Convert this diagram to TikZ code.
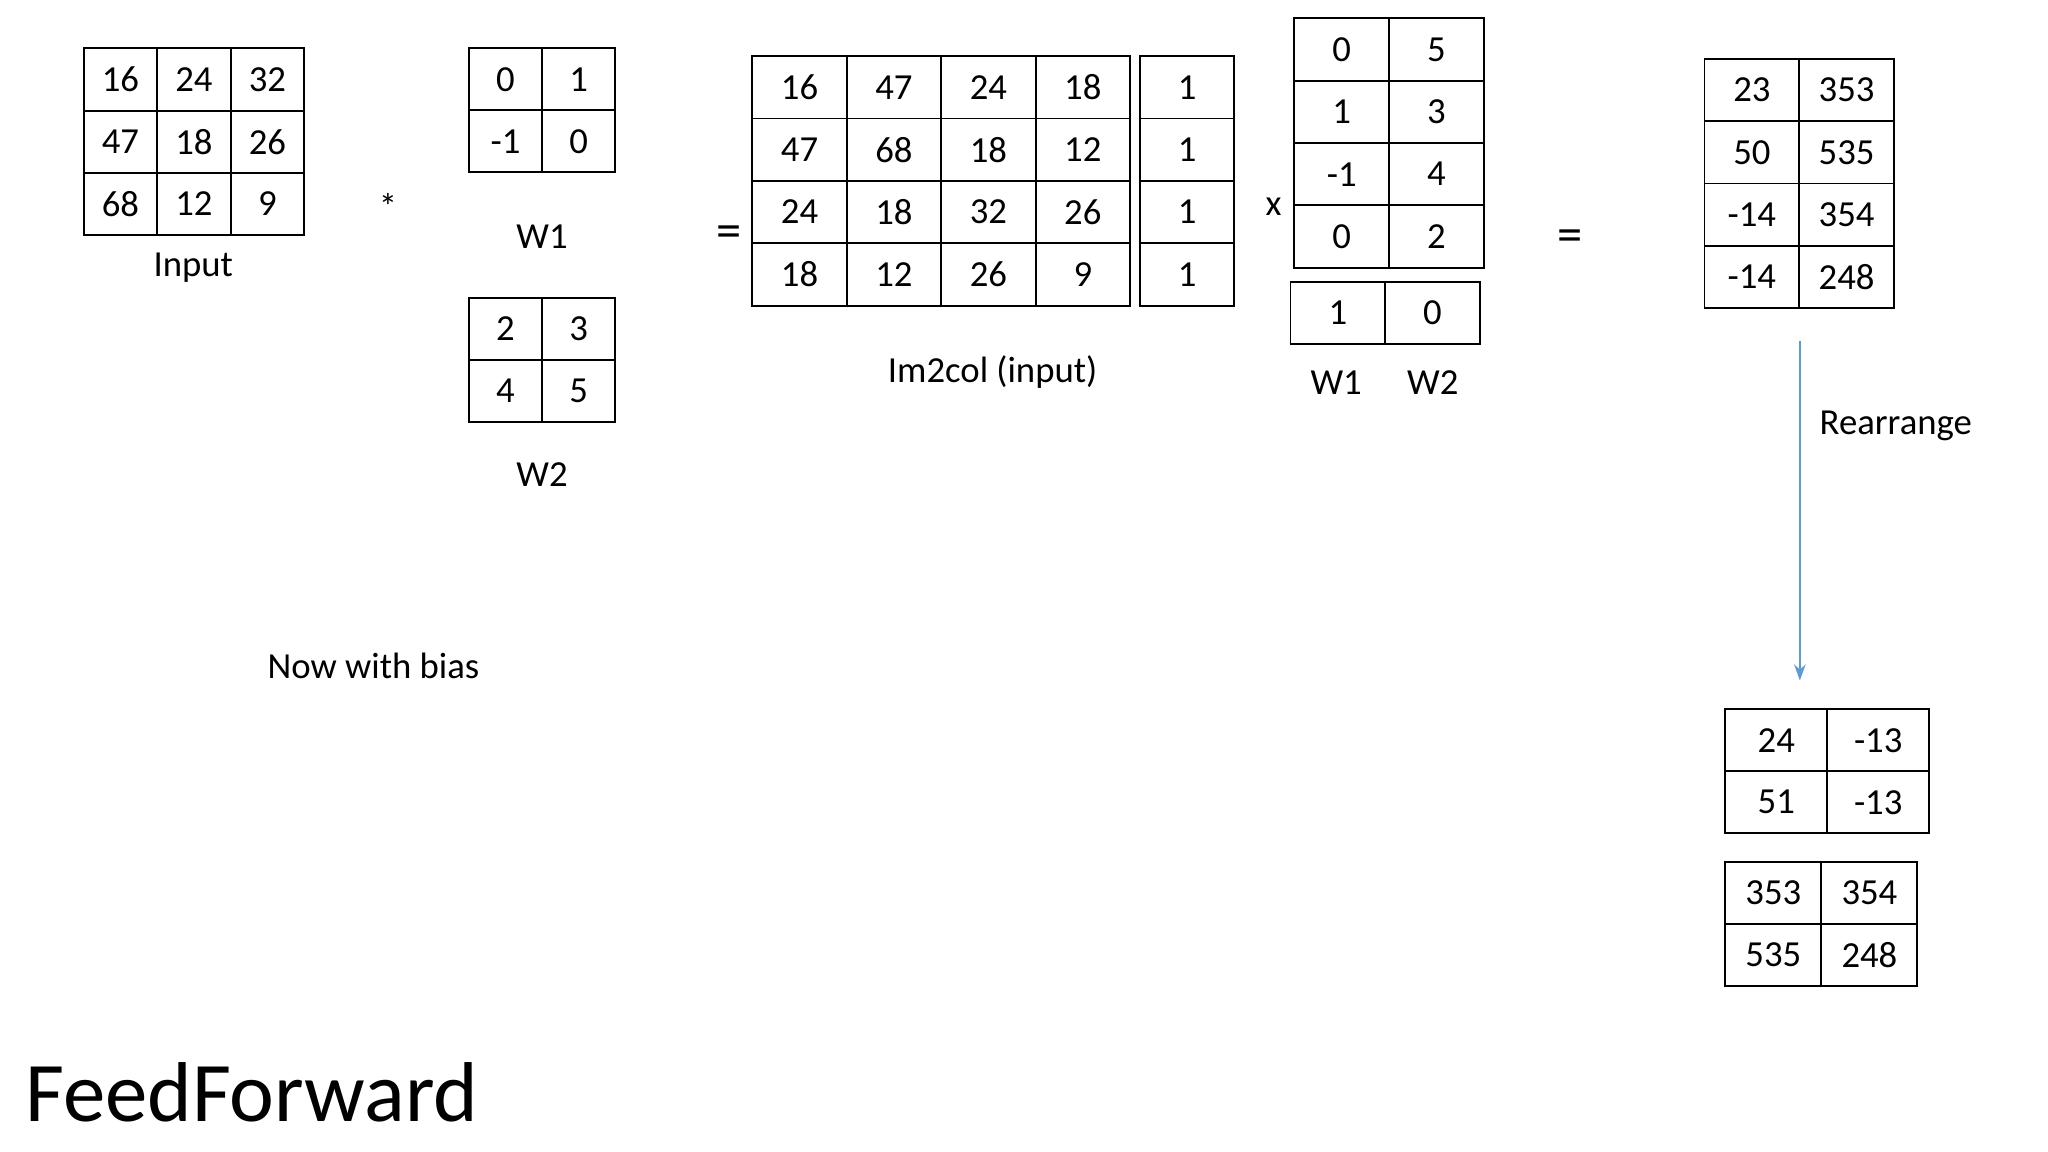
\documentclass[tikz,border=0pt]{standalone}
\usepackage{fontspec}
\setmainfont{Carlito}
\usetikzlibrary{arrows.meta}
\newcommand\mymat[6]{%
\foreach \row [count=\i] in {#6} {
  \foreach \v [count=\j] in \row {
    \node[cell, minimum width={#4*0.02cm}, minimum height={#5*0.02cm}] (#1-\i-\j) at ({#2+(\j-0.5)*#4},{#3+(\i-0.5)*#5}) {\v};
  }
}}
\begin{document}
\begin{tikzpicture}[x=0.02cm,y=-0.02cm,
  cell/.style={draw, line width=0.8pt, inner sep=0pt, font=\fontsize{16}{19}\selectfont},
  lbl/.style={font=\fontsize{16}{19}\selectfont}]
\path[use as bounding box] (0,0) rectangle (1568,882);
\mymat{in}{64}{37}{56.3}{47.7}{{16,24,32},{47,18,26},{68,12,9}}
\node[lbl] (tin) at (148,205) {Input};
\node[lbl] (star) at (297,158) {*};
\mymat{wa}{359}{37}{56}{47.5}{{0,1},{-1,0}}
\node[lbl] (twa) at (415,181) {W1};
\mymat{wb}{359}{228}{56}{47.5}{{2,3},{4,5}}
\node[lbl] (twb) at (415,363) {W2};
\node[font=\fontsize{22}{26}\selectfont] (eq1) at (558,181) {=};
\mymat{im}{576}{43}{72.3}{47.75}{{16,47,24,18},{47,68,18,12},{24,18,32,26},{18,12,26,9}}
\mymat{one}{873}{43}{72}{47.75}{{1},{1},{1},{1}}
\node[lbl] (tim) at (760,285) {Im2col (input)};
\node[lbl] (times) at (975,158) {x};
\mymat{w}{991}{14}{72.5}{47.75}{{0,5},{1,3},{-1,4},{0,2}}
\mymat{b}{988}{216}{72.5}{47.5}{{1,0}}
\node[lbl] (tw1) at (1023,293) {W1};
\node[lbl] (tw2) at (1097,293) {W2};
\node[font=\fontsize{22}{26}\selectfont] (eq2) at (1202,184) {=};
\mymat{r}{1305}{45}{72.5}{47.75}{{23,353},{50,535},{-14,354},{-14,248}}
\coordinate (a1) at (1378,261);
\coordinate (a2) at (1378,521);
\draw[color={rgb,255:red,91;green,155;blue,213}, line width=0.9pt, -{Stealth[length=7pt,width=5pt]}] (a1) -- (a2);
\node[lbl, anchor=west] (tre) at (1387,326) {Rearrange};
\mymat{o}{1321}{543}{78}{47.5}{{24,-13},{51,-13}}
\mymat{p}{1321}{660}{73.5}{47.5}{{353,354},{535,248}}
\node[lbl] (tnow) at (286,510) {Now with bias};
\node[anchor=west, font=\fontsize{37}{44}\selectfont, inner sep=0pt] (ff) at (19,836) {FeedForward};
\end{tikzpicture}
\end{document}
